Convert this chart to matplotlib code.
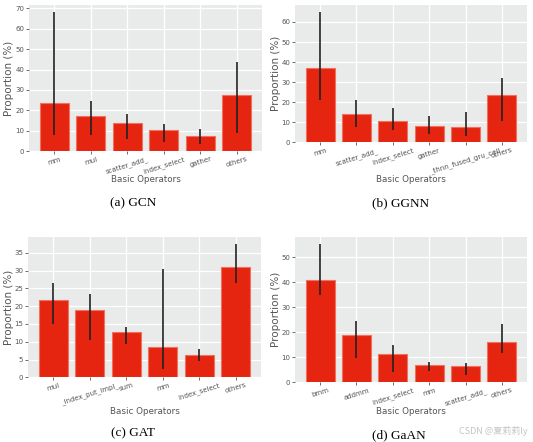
import matplotlib
matplotlib.use("Agg")
import matplotlib.pyplot as plt
import numpy as np

# ---- data ----
gcn_ops = ["mm", "mul", "scatter_add_", "index_select", "gather", "others"]
gcn_vals = [23.7, 17.0, 13.8, 10.1, 7.6, 27.3]
gcn_lo = [7.7, 7.7, 6.1, 4.6, 3.6, 8.9]
gcn_hi = [68.3, 24.5, 18.0, 13.5, 10.7, 43.5]

ggnn_ops = ["mm", "scatter_add_", "index_select", "gather", "_thnn_fused_gru_cell", "others"]
ggnn_vals = [37.1, 13.9, 10.7, 8.2, 7.5, 23.7]
ggnn_lo = [21.0, 7.5, 5.9, 4.2, 3.3, 10.7]
ggnn_hi = [65.2, 21.2, 17.1, 13.2, 14.9, 32.1]

gat_ops = ["mul", "_index_put_impl_", "sum", "mm", "index_select", "others"]
gat_vals = [21.7, 19.0, 12.8, 8.5, 6.3, 31.1]
gat_lo = [15.0, 10.5, 9.4, 2.3, 4.7, 26.6]
gat_hi = [26.4, 23.4, 14.2, 30.6, 8.1, 37.6]

gaan_ops = ["bmm", "addmm", "index_select", "mm", "scatter_add_", "others"]
gaan_vals = [40.8, 19.1, 11.2, 6.8, 6.4, 16.1]
gaan_lo = [34.9, 9.6, 4.0, 4.7, 2.9, 11.6]
gaan_hi = [55.3, 24.5, 14.9, 8.0, 7.7, 23.2]

captions = ["(a) GCN", "(b) GGNN", "(c) GAT", "(d) GaAN"]

W, H = 533, 442
fig = plt.figure(figsize=(W / 100, H / 100), dpi=100)

# axes boxes in pixels: left, top, right, bottom
boxes = [(29, 5, 262, 151), (295, 5, 527, 142.3), (28, 237, 261, 377.3), (295, 237, 527, 382.3)]
xlabel_y = [180, 180, 411, 411]
ylabel_x = [9, 276, 9, 276]
cap_pos = [(133, 203), (400, 203), (133, 433), (399, 435)]

panels = [
    (gcn_ops, gcn_vals, gcn_lo, gcn_hi),
    (ggnn_ops, ggnn_vals, ggnn_lo, ggnn_hi),
    (gat_ops, gat_vals, gat_lo, gat_hi),
    (gaan_ops, gaan_vals, gaan_lo, gaan_hi),
]

text_col = "#555555"
bar_col = "#E62510"
edge_col = "#F2705E"
bg_col = "#E8EBE9"

for (ops, vals, lo, hi), (l, t, r, b), xly, ylx, cap, cp in zip(panels, boxes, xlabel_y, ylabel_x, captions, cap_pos):
    ax = fig.add_axes([l / W, 1 - b / H, (r - l) / W, (b - t) / H])
    ax.set_facecolor(bg_col)
    x = np.arange(len(ops))
    vals = np.array(vals)
    yerr = np.vstack([vals - np.array(lo), np.array(hi) - vals])
    ax.bar(x, vals, width=0.8, color=bar_col, edgecolor=edge_col, linewidth=0.8, zorder=2)
    ax.errorbar(x, vals, yerr=yerr, fmt="none", ecolor="#222222", elinewidth=1.2, capsize=0, zorder=3)
    ax.grid(True, color="white", linewidth=0.9, zorder=0)
    ax.set_axisbelow(True)
    for s in ax.spines.values():
        s.set_visible(False)
    ax.set_xticks(x)
    ax.set_xticklabels(ops, rotation=17, fontsize=5, color=text_col)
    ax.tick_params(axis="both", length=2, width=0.6, color=text_col, labelsize=5, labelcolor=text_col, pad=1.5)
    ax.set_ylabel("Proportion (%)", fontsize=7.5, color=text_col)
    ax.yaxis.label.set_va("center")
    ax.yaxis.set_label_coords((ylx - l) / (r - l), 0.5)
    ax.set_xlabel("Basic Operators", fontsize=6.3, color=text_col)
    ax.xaxis.label.set_va("center")
    ax.xaxis.set_label_coords(0.5, (b - xly) / (b - t))
    fig.text(cp[0] / W, 1 - cp[1] / H, cap, fontsize=9.5, family="Liberation Serif",
             ha="center", va="center", color="black")

fig.text(528 / W, 1 - 431 / H, "CSDN @夏莉莉ly", fontsize=6.5, color="#c4c4c4",
         ha="right", va="center", family=["Noto Sans CJK SC", "DejaVu Sans"])

fig.savefig("out.png", dpi=100, facecolor="white")
